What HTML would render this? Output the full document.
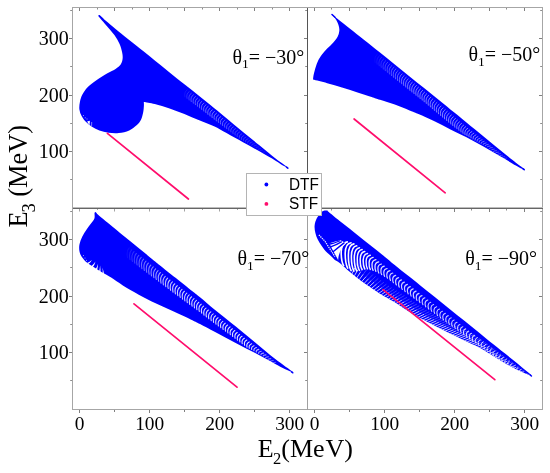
<!DOCTYPE html>
<html lang="en"><head><meta charset="utf-8"><title>E2 vs E3 kinematic loci</title>
<style>html,body{margin:0;padding:0;background:#fff}body{width:550px;height:473px;overflow:hidden}svg{display:block}</style>
</head><body>
<svg width="550" height="473" viewBox="0 0 550 473">
<rect width="550" height="473" fill="#fff"/>
<g fill="none" stroke-width="1" shape-rendering="crispEdges">
<rect x="72.5" y="7.5" width="470.0" height="402.0" stroke="#a6a6a6"/>
<path d="M307.5 208.5V409.5" stroke="#a0a0a0"/>
<path d="M307.5 7.5V208.5" stroke="#555555"/>
<path d="M72.5 207.5H542.5" stroke="#bcbcbc"/>
<path d="M72.5 208.5H542.5" stroke="#666666"/>
</g>
<path d="M79 8h1v3h-1zM79 410h1v3h-1zM114 8h1v3h-1zM114 410h1v2h-1zM149 8h1v3h-1zM149 410h1v3h-1zM184 8h1v3h-1zM184 410h1v2h-1zM219 8h1v3h-1zM219 410h1v3h-1zM254 8h1v3h-1zM254 410h1v2h-1zM289 8h1v3h-1zM289 410h1v3h-1zM314 8h1v3h-1zM314 209h1v3h-1zM314 410h1v3h-1zM349 8h1v3h-1zM349 209h1v3h-1zM349 410h1v2h-1zM384 8h1v3h-1zM384 209h1v3h-1zM384 410h1v3h-1zM419 8h1v3h-1zM419 209h1v3h-1zM419 410h1v2h-1zM454 8h1v3h-1zM454 209h1v3h-1zM454 410h1v3h-1zM489 8h1v3h-1zM489 209h1v3h-1zM489 410h1v2h-1zM524 8h1v3h-1zM524 209h1v3h-1zM524 410h1v3h-1zM72 151h-3v1h3zM307 151h-3v1h3zM542 151h-3v1h3zM72 95h-3v1h3zM307 95h-3v1h3zM542 95h-3v1h3zM72 38h-3v1h3zM307 38h-3v1h3zM542 38h-3v1h3zM72 352h-3v1h3zM307 352h-3v1h3zM542 352h-3v1h3zM72 296h-3v1h3zM307 296h-3v1h3zM542 296h-3v1h3zM72 239h-3v1h3zM307 239h-3v1h3zM542 239h-3v1h3z" fill="#808080"/>
<path d="M97 8h1v1.6h-1zM132 8h1v1.6h-1zM167 8h1v1.6h-1zM202 8h1v1.6h-1zM237 8h1v1.6h-1zM272 8h1v1.6h-1zM331 8h1v1.6h-1zM331 209h1v1.6h-1zM366 8h1v1.6h-1zM366 209h1v1.6h-1zM401 8h1v1.6h-1zM401 209h1v1.6h-1zM436 8h1v1.6h-1zM436 209h1v1.6h-1zM471 8h1v1.6h-1zM471 209h1v1.6h-1zM506 8h1v1.6h-1zM506 209h1v1.6h-1zM72 179h-1.8v1h1.8zM307 179h-1.8v1h1.8zM542 179h-1.8v1h1.8zM72 123h-1.8v1h1.8zM307 123h-1.8v1h1.8zM542 123h-1.8v1h1.8zM72 66h-1.8v1h1.8zM307 66h-1.8v1h1.8zM542 66h-1.8v1h1.8zM72 10h-1.8v1h1.8zM307 10h-1.8v1h1.8zM542 10h-1.8v1h1.8zM72 380h-1.8v1h1.8zM307 380h-1.8v1h1.8zM542 380h-1.8v1h1.8zM72 324h-1.8v1h1.8zM307 324h-1.8v1h1.8zM542 324h-1.8v1h1.8zM72 267h-1.8v1h1.8zM307 267h-1.8v1h1.8zM542 267h-1.8v1h1.8zM72 211h-1.8v1h1.8zM307 211h-1.8v1h1.8zM542 211h-1.8v1h1.8z" fill="#8c8c8c"/>
<path d="M79 209h1v2.6h-1zM97 209h1v1.1h-1zM114 209h1v2.6h-1zM132 209h1v1.1h-1zM149 209h1v2.6h-1zM167 209h1v1.1h-1zM184 209h1v2.6h-1zM202 209h1v1.1h-1zM219 209h1v2.6h-1zM237 209h1v1.1h-1zM254 209h1v2.6h-1zM272 209h1v1.1h-1zM289 209h1v2.6h-1z" fill="#a4a4a4"/>
<g fill="#0000ff" stroke="none">
<path d="M99.1 15.3C101.6 17.4 109.4 23.8 114.4 27.9C119.4 32 123.3 35.2 129.2 40C135.1 44.8 143.3 51.1 150 56.5C156.7 61.9 163.9 67.9 169.6 72.5C175.3 77.1 179.5 80.4 184.4 84.3C189.3 88.2 194.3 92.1 199.2 96C204.1 99.9 209.4 104.2 214 107.9C218.6 111.6 221.7 114.3 226.5 118.3C231.3 122.3 237.5 127.6 243 132.1C248.5 136.6 253.9 140.8 259.4 145.2C264.9 149.6 271.1 154.9 275.9 158.7C280.7 162.4 286.3 166.2 288.4 167.7C285.7 167.6 280.6 163.8 275.9 160.9C271.2 158 264.9 154.4 259.4 151.3C253.9 148.2 248.5 145.2 243 142.2C237.5 139.2 231.3 135.8 226.5 133.1C221.7 130.4 218.6 128.4 214 126.3C209.4 124.2 204.1 122.4 199.2 120.3C194.3 118.2 189.3 115.9 184.4 113.9C179.5 111.9 174.5 110.1 169.6 108.4C164.7 106.8 159.1 105.1 154.8 104C150.5 102.9 145.6 102.2 143.8 101.9C143.8 102.5 144 103.8 143.9 105.5C143.8 107.2 143.7 109.9 143.2 112.3C142.7 114.7 142.1 117.5 141 119.7C139.9 121.9 138.6 123.5 136.6 125.3C134.6 127.1 132.2 129.1 129.2 130.4C126.2 131.7 122.2 132.6 118.8 133C115.3 133.4 111.7 133.1 108.5 132.7C105.3 132.3 102.2 131.5 99.4 130.5C96.7 129.5 94.2 128.2 92 126.8C89.8 125.4 87.8 123.9 86.1 122.1C84.4 120.3 82.7 118.1 81.6 116C80.5 113.9 79.7 111.7 79.4 109.4C79.1 107.1 79.4 104.5 79.9 102C80.4 99.5 81.1 97.1 82.4 94.6C83.7 92.1 85.3 89.6 87.6 87.2C89.9 84.8 93.2 82.6 96.4 80.3C99.6 78 103.8 75.5 107 73.6C110.2 71.7 113.6 70.3 115.9 68.7C118.2 67.1 119.9 65.5 121 63.9C122.1 62.2 122.4 60.6 122.6 58.8C122.8 56.9 122.7 55.3 122.2 52.8C121.7 50.3 120.9 47 119.6 44C118.3 41 116.5 38.1 114.4 35.1C112.3 32.1 109.6 29.2 107 26.2C104.4 23.1 100.2 18.6 98.9 16.8C97.6 15 99.1 15.6 99.1 15.3Z"/>
<path d="M331.6 14.1C334.6 16.5 344 24 349.4 28.3C354.8 32.6 359.1 35.9 364.2 39.9C369.3 43.9 374.9 48.5 380 52.6C385.1 56.7 389.9 60.5 394.8 64.5C399.7 68.5 404.7 72.5 409.6 76.5C414.5 80.5 419.5 84.3 424.4 88.3C429.3 92.2 434.3 96.2 439.2 100.2C444.1 104.2 449.4 108.5 454 112.2C458.6 115.9 461.7 118.5 466.5 122.5C471.3 126.5 477.5 131.4 483 135.9C488.5 140.4 493.9 145.1 499.4 149.6C504.9 154.1 511.6 159.4 515.9 162.7C520.1 166 523.4 168.1 524.9 169.2C522.6 169.6 520 168 515.9 165.6C511.8 163.2 504.9 159 499.4 155.8C493.9 152.6 488.5 149.4 483 146.3C477.5 143.2 472 140 466.5 137.2C461 134.3 455.2 131.8 450 129.2C444.8 126.6 440.2 124.1 435 121.6C429.8 119.1 422.7 116 418.5 114.1C414.3 112.2 413.6 112 409.6 110.4C405.7 108.8 399.7 106.4 394.8 104.6C389.9 102.8 383.9 101.1 380 99.8C376.1 98.5 375.5 98.2 371.6 96.9C367.7 95.6 361.7 93.8 356.8 92.2C351.9 90.7 346.9 89.1 342 87.6C337.1 86.1 332 84.5 327.2 83.2C322.4 81.9 315.4 80.2 313 79.6C313.1 78.8 313.3 76.4 313.6 75C313.9 73.6 314.2 72.4 314.6 71C315 69.6 315.3 68.2 315.9 66.5C316.5 64.8 317 63 318 61C319 59 320.5 56.7 322 54.6C323.5 52.5 325.3 50.6 327.2 48.6C329.1 46.6 331.4 44.7 333.1 42.7C334.8 40.7 336.6 38.8 337.6 36.8C338.6 34.8 339.1 32.8 339.3 30.9C339.5 29 339.2 27.5 338.7 25.7C338.2 23.9 337.2 21.6 336.1 19.8C335.1 18 333.1 16 332.4 15C331.6 14 331.7 13.8 331.6 13.6Z"/>
<path d="M95.4 212.5C97.7 214.4 104.3 219.9 109 223.8C113.7 227.7 118.9 232.1 123.8 236.1C128.7 240.1 133.9 244.2 138.6 248C143.3 251.8 148.5 256.1 152 258.9C155.5 261.7 155.4 261.7 159.4 264.9C163.4 268.1 170.4 273.7 175.9 278.1C181.4 282.5 188.4 288.1 192.4 291.3C196.4 294.5 196.2 294.2 200 297.3C203.8 300.4 209.2 305.2 215.1 310C221 314.8 228.5 320.7 235.2 326.1C241.9 331.5 248.5 337.1 255.2 342.6C261.9 348.1 268.9 354.2 275.3 359.1C281.7 364.1 290.4 370.1 293.4 372.3C289.7 371.9 281.5 367.5 275.3 364.1C269.1 360.7 261.9 356.7 255.2 353.1C248.5 349.6 241.9 346.3 235.2 342.8C228.5 339.3 221 335.1 215.1 332C209.2 328.9 203.8 326.1 200 324.1C196.2 322.1 196.4 322.1 192.4 320.2C188.4 318.3 181.4 315 175.9 312.5C170.4 310 164.9 307.6 159.4 305C153.9 302.4 148.5 299.8 143 296.9C137.5 294 131.4 290.8 126.5 287.8C121.6 284.8 116.8 281.2 113.4 279C110 276.8 108.5 276.1 106 274.6C103.5 273.2 101.1 271.8 98.6 270.3C96.1 268.8 93.4 267.1 91.2 265.6C89 264.1 87 262.9 85.3 261.3C83.6 259.7 81.9 257 81.2 256.1C80.9 255.2 79.7 252.9 79.4 250.9C79.1 248.9 79 246.5 79.5 244.2C80 241.8 81 239.3 82.2 236.8C83.4 234.3 85.1 231.6 86.6 229.4C88.1 227.2 89.7 225.3 91 223.5C92.3 221.7 93.8 220.1 94.4 218.4C95 216.7 94.4 214.3 94.6 213.2C94.8 212.1 95.3 212.2 95.4 212Z"/>
</g>
<path d="M286.5 167.2L287.8 168.2M522.9 168.8L524.2 169.7M291.5 371.9L292.8 372.8M530.1 375L531.4 376M99.4 15.8l3.2 3M332 14.5l3 2.8M95.6 213l0.6 3" stroke="#0000ff" stroke-width="1.5" stroke-linecap="round" fill="none"/>
<g fill="none" stroke="#fff" stroke-width="0.8" stroke-linecap="round"><path d="M185 88.3Q181.7 90.4 182.8 95.3" opacity="0.00"/><path d="M187.1 89.9Q183.8 92 184.9 96.9" opacity="0.10"/><path d="M189.2 91.6Q185.9 93.6 187 98.4" opacity="0.21"/><path d="M191.3 93.2Q188 95.2 189.1 100" opacity="0.31"/><path d="M193.4 94.8Q190.1 96.9 191.2 101.6" opacity="0.40"/><path d="M195.5 96.5Q192.2 98.5 193.3 103.2" opacity="0.42"/><path d="M197.6 98.1Q194.3 100.1 195.4 104.7" opacity="0.43"/><path d="M199.7 99.8Q196.4 101.7 197.5 106.3" opacity="0.45"/><path d="M201.8 101.4Q198.5 103.4 199.6 107.9" opacity="0.46"/><path d="M203.9 103.1Q200.6 105 201.7 109.5" opacity="0.47"/><path d="M206 104.8Q202.7 106.7 203.8 111.1" opacity="0.49"/><path d="M208.1 106.4Q204.8 108.3 205.9 112.7" opacity="0.50"/><path d="M210.2 108.1Q206.9 110 207.9 114.4" opacity="0.52"/><path d="M212.3 109.8Q209 111.6 210 116" opacity="0.53"/><path d="M214.4 111.5Q211.1 113.3 212.1 117.6" opacity="0.55"/><path d="M216.5 113.2Q213.2 115 214.2 119.2" opacity="0.53"/><path d="M218.6 114.9Q215.3 116.7 216.3 120.9" opacity="0.51"/><path d="M220.7 116.6Q217.4 118.4 218.4 122.4" opacity="0.49"/><path d="M222.8 118.3Q219.5 120 220.5 124" opacity="0.47"/><path d="M224.9 120Q221.6 121.7 222.6 125.6" opacity="0.44"/><path d="M227 121.7Q223.7 123.4 224.7 127.2" opacity="0.42"/><path d="M229.1 123.4Q225.8 125 226.7 128.7" opacity="0.40"/><path d="M231.2 125.2Q227.9 126.7 228.8 130.3" opacity="0.37"/><path d="M233.3 126.9Q230 128.4 230.9 131.9" opacity="0.35"/><path d="M235.4 128.6Q232.1 130 233 133.5" opacity="0.33"/><path d="M237.5 130.3Q234.2 131.7 235.1 135" opacity="0.31"/><path d="M239.6 132Q236.3 133.4 237.2 136.6" opacity="0.29"/><path d="M241.7 133.7Q238.4 135.1 239.2 138.2" opacity="0.27"/><path d="M243.8 135.4Q240.5 136.6 241.3 139.5" opacity="0.26"/><path d="M245.9 137Q242.6 138.1 243.3 140.6" opacity="0.24"/><path d="M248 138.7Q244.7 139.6 245.4 141.8" opacity="0.23"/><path d="M250.1 140.3Q246.8 141.1 247.4 143" opacity="0.21"/><path d="M252.2 141.9Q248.9 142.6 249.5 144.1" opacity="0.19"/><path d="M254.3 143.6Q251 144.1 251.5 145.3" opacity="0.18"/><path d="M256.4 145.2Q253.1 145.6 253.6 146.5" opacity="0.16"/><path d="M258.5 146.8Q255.2 147.1 255.6 147.8" opacity="0.15"/><path d="M260.6 148.5Q257.3 148.8 257.7 149.5" opacity="0.13"/><path d="M262.7 150.1Q259.4 150.4 259.8 151.1" opacity="0.12"/><path d="M264.8 151.8Q261.5 152.1 261.9 152.8" opacity="0.10"/></g>
<g fill="none" stroke="#fff" stroke-width="0.8" stroke-linecap="round"><path d="M375.4 52.4Q371.7 55 373 60.9" opacity="0.00"/><path d="M377.4 54.1Q373.8 56.6 375.1 62.5" opacity="0.06"/><path d="M379.5 55.7Q375.8 58.2 377.1 64.2" opacity="0.11"/><path d="M381.6 57.4Q377.9 59.9 379.2 65.8" opacity="0.17"/><path d="M383.6 59Q379.9 61.5 381.2 67.4" opacity="0.22"/><path d="M385.7 60.7Q382 63.2 383.3 69.1" opacity="0.28"/><path d="M387.7 62.3Q384 64.8 385.3 70.7" opacity="0.33"/><path d="M389.8 64Q386.1 66.5 387.4 72.3" opacity="0.36"/><path d="M391.8 65.6Q388.1 68.1 389.4 74" opacity="0.38"/><path d="M393.9 67.3Q390.2 69.8 391.5 75.6" opacity="0.40"/><path d="M395.9 68.9Q392.2 71.4 393.5 77.3" opacity="0.43"/><path d="M398 70.6Q394.3 73.1 395.5 78.9" opacity="0.45"/><path d="M400 72.3Q396.3 74.7 397.6 80.6" opacity="0.47"/><path d="M402.1 73.9Q398.4 76.4 399.6 82.2" opacity="0.49"/><path d="M404.1 75.6Q400.4 78.1 401.7 83.8" opacity="0.51"/><path d="M406.2 77.3Q402.5 79.7 403.7 85.5" opacity="0.53"/><path d="M408.2 78.9Q404.5 81.4 405.8 87.1" opacity="0.55"/><path d="M410.3 80.6Q406.6 83 407.8 88.8" opacity="0.57"/><path d="M412.3 82.2Q408.6 84.7 409.9 90.4" opacity="0.59"/><path d="M414.4 83.9Q410.7 86.3 411.9 92" opacity="0.60"/><path d="M416.4 85.5Q412.7 87.9 414 93.6" opacity="0.60"/><path d="M418.5 87.1Q414.8 89.6 416 95.3" opacity="0.60"/><path d="M420.5 88.8Q416.8 91.2 418.1 96.9" opacity="0.61"/><path d="M422.6 90.4Q418.9 92.8 420.1 98.5" opacity="0.61"/><path d="M424.6 92.1Q420.9 94.5 422.2 100.1" opacity="0.61"/><path d="M426.7 93.7Q423 96.1 424.2 101.8" opacity="0.61"/><path d="M428.7 95.4Q425 97.8 426.3 103.4" opacity="0.61"/><path d="M430.8 97.2Q427.1 99.6 428.3 105.2" opacity="0.61"/><path d="M432.8 98.9Q429.1 101.3 430.4 106.9" opacity="0.62"/><path d="M434.9 100.7Q431.2 103.1 432.4 108.7" opacity="0.62"/><path d="M436.9 102.5Q433.2 104.9 434.4 110.4" opacity="0.62"/><path d="M439 104.3Q435.3 106.6 436.5 112.1" opacity="0.62"/><path d="M441 106.1Q437.3 108.4 438.5 113.8" opacity="0.62"/><path d="M443.1 107.9Q439.4 110.1 440.6 115.5" opacity="0.62"/><path d="M445.1 109.7Q441.4 111.9 442.6 117.2" opacity="0.63"/><path d="M447.2 111.4Q443.5 113.7 444.6 118.9" opacity="0.63"/><path d="M449.2 113.2Q445.5 115.4 446.7 120.6" opacity="0.63"/><path d="M451.3 115Q447.6 117.2 448.7 122.3" opacity="0.63"/><path d="M453.3 116.8Q449.6 119 450.8 124" opacity="0.63"/><path d="M455.4 118.5Q451.7 120.6 452.8 125.6" opacity="0.63"/><path d="M457.4 120.1Q453.7 122.2 454.8 127.2" opacity="0.64"/><path d="M459.5 121.8Q455.8 123.9 456.9 128.7" opacity="0.64"/><path d="M461.5 123.4Q457.8 125.5 458.9 130.3" opacity="0.64"/><path d="M463.6 125.1Q459.9 127.1 461 131.9" opacity="0.64"/><path d="M465.6 126.7Q461.9 128.7 463 133.4" opacity="0.64"/><path d="M467.7 128.3Q464 130.2 465 134.6" opacity="0.65"/><path d="M469.7 130Q466 131.7 467 135.6" opacity="0.65"/><path d="M471.8 131.6Q468.1 133.1 469 136.7" opacity="0.65"/><path d="M473.8 133.2Q470.1 134.6 471 137.9" opacity="0.65"/><path d="M475.9 134.8Q472.2 136.1 472.9 139" opacity="0.63"/><path d="M477.9 136.5Q474.2 137.6 474.9 140.1" opacity="0.60"/><path d="M480 138.1Q476.3 139 476.9 141.2" opacity="0.58"/><path d="M482 139.7Q478.3 140.5 478.9 142.4" opacity="0.56"/><path d="M484.1 141.3Q480.4 142 480.9 143.5" opacity="0.54"/><path d="M486.1 142.9Q482.4 143.4 482.9 144.6" opacity="0.52"/><path d="M488.2 144.4Q484.5 144.8 484.9 145.8" opacity="0.50"/><path d="M490.2 146Q486.5 146.3 486.9 147" opacity="0.48"/><path d="M492.3 147.5Q488.6 147.8 489 148.5" opacity="0.46"/><path d="M494.3 149.1Q490.6 149.4 491 150.1" opacity="0.44"/><path d="M496.4 150.6Q492.7 150.9 493.1 151.6" opacity="0.42"/><path d="M498.4 152.1Q494.7 152.4 495.1 153.1" opacity="0.40"/><path d="M500.5 153.6Q496.8 153.9 497.2 154.6" opacity="0.36"/><path d="M502.5 155.1Q498.8 155.4 499.2 156.1" opacity="0.33"/><path d="M504.6 156.6Q500.9 156.9 501.3 157.6" opacity="0.29"/><path d="M506.6 158Q502.9 158.3 503.3 159" opacity="0.26"/></g>
<g fill="none" stroke="#fff" stroke-width="1.1" stroke-linecap="round"><path d="M126.8 246Q123.7 249 125.2 256" opacity="0.00"/><path d="M129.2 247.9Q126.1 250.9 127.6 257.8" opacity="0.06"/><path d="M131.6 249.8Q128.5 252.7 130 259.6" opacity="0.12"/><path d="M134 251.7Q130.9 254.6 132.4 261.4" opacity="0.18"/><path d="M136.4 253.5Q133.3 256.4 134.8 263.2" opacity="0.24"/><path d="M138.8 255.4Q135.7 258.3 137.1 265" opacity="0.30"/><path d="M141.2 257.3Q138.1 260.2 139.5 266.8" opacity="0.36"/><path d="M143.6 259.2Q140.5 262.1 141.9 268.6" opacity="0.41"/><path d="M146 261.1Q142.9 263.9 144.3 270.5" opacity="0.44"/><path d="M148.4 263Q145.3 265.8 146.7 272.3" opacity="0.47"/><path d="M150.8 265Q147.7 267.7 149.1 274.1" opacity="0.51"/><path d="M153.2 266.9Q150.1 269.6 151.5 275.9" opacity="0.54"/><path d="M155.6 268.8Q152.5 271.4 153.9 277.7" opacity="0.57"/><path d="M158 270.7Q154.9 273.3 156.3 279.5" opacity="0.60"/><path d="M160.4 272.5Q157.3 275.2 158.7 281.3" opacity="0.63"/><path d="M162.8 274.4Q159.7 277 161 283.1" opacity="0.67"/><path d="M165.2 276.3Q162.1 278.9 163.4 284.9" opacity="0.70"/><path d="M167.6 278.2Q164.5 280.7 165.8 286.7" opacity="0.73"/><path d="M170 280Q166.9 282.6 168.2 288.5" opacity="0.76"/><path d="M172.4 281.9Q169.3 284.4 170.6 290.3" opacity="0.79"/><path d="M174.8 283.8Q171.7 286.3 173 292.1" opacity="0.80"/><path d="M177.2 285.7Q174.1 288.1 175.4 293.9" opacity="0.81"/><path d="M179.6 287.5Q176.5 290 177.8 295.6" opacity="0.81"/><path d="M182 289.4Q178.9 291.8 180.2 297.4" opacity="0.81"/><path d="M184.4 291.3Q181.3 293.6 182.6 299.2" opacity="0.82"/><path d="M186.8 293.1Q183.7 295.5 184.9 300.9" opacity="0.82"/><path d="M189.2 294.9Q186.1 297.3 187.3 302.7" opacity="0.82"/><path d="M191.6 296.8Q188.5 299.1 189.7 304.4" opacity="0.83"/><path d="M194 298.6Q190.9 300.9 192.1 306.2" opacity="0.83"/><path d="M196.4 300.4Q193.3 302.7 194.5 307.9" opacity="0.83"/><path d="M198.8 302.3Q195.7 304.5 196.9 309.6" opacity="0.83"/><path d="M201.2 304.2Q198.1 306.3 199.3 311.4" opacity="0.84"/><path d="M203.6 306.1Q200.5 308.2 201.7 313.2" opacity="0.84"/><path d="M206 308.1Q202.9 310.2 204 315.1" opacity="0.84"/><path d="M208.4 310Q205.3 312.1 206.4 316.9" opacity="0.85"/><path d="M210.8 311.9Q207.7 314 208.8 318.8" opacity="0.85"/><path d="M213.2 313.9Q210.1 315.9 211.2 320.6" opacity="0.85"/><path d="M215.6 315.8Q212.5 317.8 213.6 322.4" opacity="0.86"/><path d="M218 317.7Q214.9 319.6 216 324.2" opacity="0.86"/><path d="M220.4 319.5Q217.3 321.4 218.4 326" opacity="0.86"/><path d="M222.8 321.4Q219.7 323.3 220.8 327.7" opacity="0.87"/><path d="M225.2 323.2Q222.1 325.1 223.1 329.5" opacity="0.87"/><path d="M227.6 325.1Q224.5 326.9 225.5 331.2" opacity="0.87"/><path d="M230 326.9Q226.9 328.7 227.9 333" opacity="0.88"/><path d="M232.4 328.8Q229.3 330.5 230.3 334.7" opacity="0.88"/><path d="M234.8 330.6Q231.7 332.4 232.7 336.5" opacity="0.88"/><path d="M237.2 332.5Q234.1 334.2 235.1 338.3" opacity="0.89"/><path d="M239.6 334.4Q236.5 336.1 237.5 340.1" opacity="0.89"/><path d="M242 336.3Q238.9 338 239.9 341.9" opacity="0.89"/><path d="M244.4 338.2Q241.3 339.8 242.2 343.6" opacity="0.90"/><path d="M246.8 340.1Q243.7 341.7 244.6 345.3" opacity="0.90"/><path d="M249.2 341.9Q246.1 343.5 247 347.1" opacity="0.88"/><path d="M251.6 343.8Q248.5 345.1 249.3 348.3" opacity="0.83"/><path d="M254 345.7Q250.9 346.8 251.7 349.5" opacity="0.79"/><path d="M256.4 347.5Q253.3 348.5 254 350.8" opacity="0.75"/><path d="M258.8 349.4Q255.7 350.2 256.3 352" opacity="0.71"/><path d="M261.2 351.2Q258.1 351.8 258.7 353.4" opacity="0.67"/><path d="M263.6 353.1Q260.5 353.5 261 354.7" opacity="0.62"/><path d="M266 354.9Q262.9 355.2 263.3 356" opacity="0.58"/><path d="M268.4 356.8Q265.3 357.1 265.7 357.8" opacity="0.54"/><path d="M270.8 358.6Q267.7 358.9 268.1 359.6" opacity="0.48"/><path d="M273.2 360.5Q270.1 360.8 270.5 361.5" opacity="0.42"/><path d="M275.6 362.3Q272.5 362.6 272.9 363.3" opacity="0.37"/></g>
<path d="M87 263.1Q89.8 261.8 91.8 260Q90.7 262.8 88.4 264.1ZM91.1 266.5Q93.7 264.2 95.5 261.5Q94.6 265.2 92.5 267.5ZM95.2 270.1Q97 267.1 98.1 263.7Q97.9 268.1 96.6 271.1ZM98.9 272.4Q99.8 269.2 100.1 265.6Q100.8 270.2 100.3 273.4ZM102.6 273.7Q102.9 270.8 102.5 267.4Q103.8 271.8 104 274.7Z" fill="#fff"/>
<g fill="none" stroke="#fff" stroke-linecap="round"><path d="M83.6 255.6h.01M85 258.1h.01M86.6 260.4h.01M83.6 115.6h.01M85.2 117.8h.01M87 119h.01" stroke-width="0.9" opacity="0.8"/><path d="M91.7 122.4L91.6 125.6" stroke-width="0.5"/></g>
<path d="M87.1 121.4L89.9 120.8L89.5 125.2Z" fill="#fff"/>
<clipPath id="c4"><path d="M327.6 211C330 213 337.1 218.9 342 222.8C346.9 226.7 351.9 230.5 356.8 234.4C361.7 238.3 366.9 242.4 371.6 246.2C376.3 249.9 381.2 253.8 385 256.9C388.8 260 390.4 261.4 394.4 264.7C398.4 268 404.9 273.2 409.2 276.6C413.5 280 415.7 281.8 420 285.2C424.3 288.6 429.9 293.1 434.8 297C439.7 300.9 444.7 304.9 449.6 308.9C454.5 312.9 459.5 316.8 464.4 320.8C469.3 324.8 474.3 328.7 479.2 332.7C484.1 336.7 488.6 340.4 494 344.8C499.4 349.2 505.4 353.8 511.8 358.9C518.1 364 528.7 372.7 532.1 375.5C527.9 375.1 518 370.5 511.8 367.1C505.6 363.7 499.4 359.7 494 356.4C488.6 353.1 484.1 350.1 479.2 347.4C474.3 344.7 469.3 342.8 464.4 340.4C459.5 338 454.5 335.6 449.6 333.2C444.7 330.8 439.7 328.3 434.8 325.8C429.9 323.3 424.2 320.3 420 318C415.8 315.7 413.9 314.7 409.6 312C405.3 309.3 399.4 305.1 394.4 302C389.4 298.9 384.5 296.5 379.6 293.4C374.7 290.3 369.7 287.2 364.8 283.6C359.9 280 354 275.3 350 272C346 268.7 343.6 266.1 341 264C338.4 261.9 335.7 260.4 334.6 259.7C333.9 259 331.8 257 330.1 255.3C328.4 253.6 326.2 251.9 324.2 249.4C322.2 246.9 319.8 243.2 318.3 240.5C316.8 237.8 316 235.6 315.4 233.1C314.8 230.6 314.4 228.2 314.6 225.7C314.8 223.2 315.7 220.5 316.8 218.3C317.9 216.1 320 213.7 321.3 212.4C322.6 211.1 323.6 210.8 324.6 210.5C325.7 210.2 327.1 210.6 327.6 210.6Z"/></clipPath>
<path d="M327.6 211C330 213 337.1 218.9 342 222.8C346.9 226.7 351.9 230.5 356.8 234.4C361.7 238.3 366.9 242.4 371.6 246.2C376.3 249.9 381.2 253.8 385 256.9C388.8 260 390.4 261.4 394.4 264.7C398.4 268 404.9 273.2 409.2 276.6C413.5 280 415.7 281.8 420 285.2C424.3 288.6 429.9 293.1 434.8 297C439.7 300.9 444.7 304.9 449.6 308.9C454.5 312.9 459.5 316.8 464.4 320.8C469.3 324.8 474.3 328.7 479.2 332.7C484.1 336.7 488.6 340.4 494 344.8C499.4 349.2 505.4 353.8 511.8 358.9C518.1 364 528.7 372.7 532.1 375.5C527.9 375.1 518 370.5 511.8 367.1C505.6 363.7 499.4 359.7 494 356.4C488.6 353.1 484.1 350.1 479.2 347.4C474.3 344.7 469.3 342.8 464.4 340.4C459.5 338 454.5 335.6 449.6 333.2C444.7 330.8 439.7 328.3 434.8 325.8C429.9 323.3 424.2 320.3 420 318C415.8 315.7 413.9 314.7 409.6 312C405.3 309.3 399.4 305.1 394.4 302C389.4 298.9 384.5 296.5 379.6 293.4C374.7 290.3 369.7 287.2 364.8 283.6C359.9 280 354 275.3 350 272C346 268.7 343.6 266.1 341 264C338.4 261.9 335.7 260.4 334.6 259.7C333.9 259 331.8 257 330.1 255.3C328.4 253.6 326.2 251.9 324.2 249.4C322.2 246.9 319.8 243.2 318.3 240.5C316.8 237.8 316 235.6 315.4 233.1C314.8 230.6 314.4 228.2 314.6 225.7C314.8 223.2 315.7 220.5 316.8 218.3C317.9 216.1 320 213.7 321.3 212.4C322.6 211.1 323.6 210.8 324.6 210.5C325.7 210.2 327.1 210.6 327.6 210.6Z" fill="#0000ff"/>
<g clip-path="url(#c4)" fill="none" stroke="#fff" stroke-linecap="round">
<path d="M347.3 241.9Q341.4 242.8 341.2 251.8Q341.1 261.1 343.6 265.7" stroke-width="1.6" opacity="1.00"/>
<path d="M351 242.7Q345.4 243.6 345.2 253.1Q345.1 263.1 347.7 268.1" stroke-width="1.6" opacity="0.99"/>
<path d="M353.9 243.9Q348.6 244.7 348.4 254.6Q348.2 265.3 351.1 270.6" stroke-width="1.6" opacity="0.98"/>
<path d="M356.7 245.8Q351.6 246.6 351.4 256Q351.2 266 353.9 271.1" stroke-width="1.6" opacity="0.98"/>
<path d="M359.4 247.7Q354.5 248.5 354.3 257.1Q354.2 266.3 356.7 270.9" stroke-width="1.6" opacity="0.97"/>
<path d="M362.1 249.6Q357.5 250.4 357.3 258.1Q357.1 266.3 359.4 270.4" stroke-width="1.5" opacity="0.97"/>
<path d="M364.8 251.5Q360.4 252.2 360.2 259Q360.1 266.2 362.1 269.7" stroke-width="1.5" opacity="0.96"/>
<path d="M367.5 253.4Q363.4 254.1 363.2 259.9Q363 266 364.8 269" stroke-width="1.5" opacity="0.95"/>
<path d="M370.3 255.3Q366.3 256 366.1 261.1Q366 266.3 367.5 268.8" stroke-width="1.4" opacity="0.94"/>
<path d="M373.1 257.4Q369.3 258.1 369.1 262.6Q368.9 267.3 370.3 269.5" stroke-width="1.4" opacity="0.92"/>
<path d="M375.9 259.6Q372.2 260.3 372 264.3Q371.9 268.5 373.1 270.4" stroke-width="1.3" opacity="0.90"/>
<path d="M378.7 261.8Q375.2 262.5 375 266Q374.8 269.6 375.9 271.3" stroke-width="1.3" opacity="0.88"/>
<path d="M381.5 264Q378.1 264.6 377.9 268Q377.8 271.4 378.8 273" stroke-width="1.2" opacity="0.87"/>
<path d="M384.3 266.2Q381.1 266.8 380.9 270Q380.7 273.2 381.7 274.6" stroke-width="1.2" opacity="0.85"/>
<path d="M387.1 268.5Q384 269.1 383.8 272Q383.7 275 384.6 276.3" stroke-width="1.2" opacity="0.83"/>
<path d="M390 270.7Q387 271.3 386.8 274.1Q386.6 276.9 387.5 278.2" stroke-width="1.2" opacity="0.81"/>
<path d="M392.8 273Q389.9 273.6 389.7 276.3Q389.6 279.1 390.5 280.4" stroke-width="1.2" opacity="0.80"/>
<path d="M395.7 275.3Q392.9 275.9 392.7 278.6Q392.5 281.4 393.4 282.7" stroke-width="1.2" opacity="0.80"/>
<path d="M398.6 277.6Q395.8 278.2 395.6 280.9Q395.5 283.6 396.4 284.9" stroke-width="1.2" opacity="0.80"/>
<path d="M401.5 279.8Q398.8 280.4 398.6 283.1Q398.4 285.9 399.3 287.1" stroke-width="1.2" opacity="0.80"/>
<path d="M404.4 282.1Q401.7 282.7 401.5 285.4Q401.4 288.1 402.3 289.4" stroke-width="1.2" opacity="0.80"/>
<path d="M407.4 284.4Q404.7 285 404.5 287.6Q404.3 290.3 405.2 291.6" stroke-width="1.2" opacity="0.80"/>
<path d="M410.3 286.6Q407.6 287.2 407.4 289.9Q407.3 292.5 408.2 293.8" stroke-width="1.2" opacity="0.80"/>
<path d="M413.2 288.9Q410.6 289.5 410.4 292.1Q410.2 294.7 411.1 296" stroke-width="1.2" opacity="0.80"/>
<path d="M416.1 291.1Q413.5 291.7 413.3 294.3Q413.2 296.9 414.1 298.2" stroke-width="1.2" opacity="0.80"/>
<path d="M419 293.3Q416.5 293.9 416.3 296.5Q416.1 299.1 417 300.3" stroke-width="1.2" opacity="0.80"/>
<path d="M422 295.6Q419.4 296.1 419.2 298.7Q419.1 301.3 419.9 302.5" stroke-width="1.2" opacity="0.80"/>
<path d="M424.9 297.8Q422.4 298.4 422.2 300.9Q422 303.5 422.9 304.7" stroke-width="1.1" opacity="0.80"/>
<path d="M427.8 300Q425.3 300.6 425.1 303.1Q425 305.7 425.8 306.9" stroke-width="1.1" opacity="0.80"/>
<path d="M430.7 302.3Q428.3 302.8 428.1 305.3Q427.9 307.9 428.8 309.1" stroke-width="1.1" opacity="0.80"/>
<path d="M433.6 304.5Q431.2 305 431 307.5Q430.9 310.1 431.7 311.3" stroke-width="1.1" opacity="0.80"/>
<path d="M436.6 306.7Q434.2 307.3 434 309.7Q433.8 312.2 434.7 313.4" stroke-width="1.1" opacity="0.80"/>
<path d="M439.5 309Q437.1 309.5 436.9 311.9Q436.8 314.4 437.6 315.6" stroke-width="1.1" opacity="0.80"/>
<path d="M442.4 311.2Q440.1 311.7 439.9 314.1Q439.7 316.6 440.6 317.8" stroke-width="1.1" opacity="0.80"/>
<path d="M445.3 313.4Q443 314 442.8 316.3Q442.7 318.7 443.5 319.9" stroke-width="1.1" opacity="0.80"/>
<path d="M448.2 315.6Q446 316.2 445.8 318.5Q445.6 320.9 446.4 322" stroke-width="1.1" opacity="0.80"/>
<path d="M451.2 317.8Q448.9 318.4 448.7 320.7Q448.6 323 449.4 324.2" stroke-width="1.1" opacity="0.80"/>
<path d="M454.1 320Q451.9 320.6 451.7 322.8Q451.5 325.2 452.3 326.3" stroke-width="1.1" opacity="0.80"/>
<path d="M457 322.3Q454.8 322.8 454.6 325Q454.5 327.3 455.3 328.4" stroke-width="1.1" opacity="0.80"/>
<path d="M459.9 324.5Q457.8 325 457.6 327.2Q457.4 329.5 458.2 330.6" stroke-width="1.1" opacity="0.80"/>
<path d="M462.8 326.7Q460.7 327.2 460.5 329.3Q460.4 331.6 461.2 332.7" stroke-width="1.1" opacity="0.80"/>
<path d="M465.7 328.9Q463.7 329.4 463.5 331.5Q463.3 333.8 464.1 334.8" stroke-width="1.1" opacity="0.80"/>
<path d="M468.7 331.1Q466.6 331.6 466.4 333.7Q466.3 335.9 467 337" stroke-width="1.1" opacity="0.80"/>
<path d="M471.6 333.3Q469.6 333.8 469.4 335.8Q469.2 338 470 339.1" stroke-width="1.1" opacity="0.80"/>
<path d="M474.5 335.4Q472.5 336 472.3 338Q472.2 340.1 472.9 341.1" stroke-width="1.1" opacity="0.80"/>
<path d="M477.4 337.6Q475.5 338.1 475.3 340.1Q475.1 342.2 475.9 343.2" stroke-width="1" opacity="0.80"/>
<path d="M480.3 339.8Q478.4 340.3 478.2 342.2Q478.1 344.3 478.8 345.2" stroke-width="1" opacity="0.80"/>
<path d="M483.2 342Q481.4 342.5 481.2 344.4Q481 346.4 481.7 347.3" stroke-width="1" opacity="0.80"/>
<path d="M486.1 344.2Q484.3 344.7 484.1 346.5Q484 348.5 484.7 349.4" stroke-width="1" opacity="0.80"/>
<path d="M489.1 346.4Q487.3 346.9 487.1 348.7Q486.9 350.6 487.6 351.5" stroke-width="1" opacity="0.80"/>
<path d="M492 348.6Q490.2 349.1 490 350.8Q489.9 352.7 490.5 353.6" stroke-width="1" opacity="0.80"/>
<path d="M494.9 350.8Q493.2 351.3 493 353Q492.8 354.8 493.5 355.6" stroke-width="1" opacity="0.80"/>
<path d="M497.8 352.9Q496.1 353.4 495.9 355Q495.8 356.8 496.4 357.6" stroke-width="1" opacity="0.80"/>
<path d="M500.7 355Q499.1 355.5 498.9 357.1Q498.7 358.8 499.4 359.6" stroke-width="1" opacity="0.80"/>
<path d="M503.6 357.1Q502 357.5 501.8 359Q501.7 360.7 502.3 361.4" stroke-width="1" opacity="0.80"/>
<path d="M506.5 359.1Q505 359.6 504.8 361Q504.6 362.5 505.2 363.2" stroke-width="0.9" opacity="0.80"/>
<path d="M509.5 361.1Q507.9 361.6 507.7 362.9Q507.6 364.3 508.1 365" stroke-width="0.9" opacity="0.80"/>
<path d="M512.4 363.1Q510.9 363.6 510.7 364.8Q510.5 366.2 511.1 366.8" stroke-width="0.9" opacity="0.80"/>
<path d="M515.3 365.2Q513.8 365.7 513.6 366.8Q513.5 368.1 514 368.6" stroke-width="0.8" opacity="0.80"/>
<path d="M518.2 367.3Q516.8 367.8 516.6 368.8Q516.4 370 516.9 370.5" stroke-width="0.8" opacity="0.80"/>
<path d="M521.1 369.4Q519.7 369.9 519.5 370.8Q519.4 371.9 519.8 372.3" stroke-width="0.8" opacity="0.80"/>
<path d="M524 371.5Q522.7 372 522.5 372.8Q522.3 373.8 522.8 374.2" stroke-width="0.7" opacity="0.80"/>
<path d="M526.9 373.8Q525.6 374.2 525.4 375Q525.3 375.9 525.7 376.3" stroke-width="0.7" opacity="0.80"/>
<path d="M318.9 234.9L325 241.3L328.4 246.6L334.9 256.6" stroke-width="1.25" stroke-dasharray="1.35 0.85" stroke-linecap="butt" opacity="0.95"/>
</g>
<g clip-path="url(#c4)">
<path d="M340.5 240.2Q335.5 241.2 329.6 243.2L331.6 248L334.6 253.5L337.6 259L339.2 263L338.1 260.4Q338.4 254 341.4 248.9Q343.6 245.4 346.2 243.2Z" fill="#fff"/>
<path d="M339.4 241.0Q333.6 243.5 329.9 244.0M341.4 241.9Q336.2 245.0 331.2 246.7M344.1 242.9Q338.4 247.4 333.4 251.6" fill="none" stroke="#0000ff" stroke-width="1.35" stroke-linecap="round"/>
</g>
<g clip-path="url(#c4)" fill="none" stroke="#fff"><path d="M351.5 274.8l3.4 -6.9M353.9 276.7l3.8 -6.7M356.3 278.6l4.2 -6.5M358.6 280.5l4.6 -6.2M361 282.3l5.1 -5.7M363.4 284.2l5.3 -5.5M365.8 285.9l5.5 -5.4M368.3 287.5l5.7 -5.2M370.7 289.1l5.9 -5M373.1 290.7l6.1 -4.7M375.5 292.3l6.2 -4.6M378 293.9l6.3 -4.5M380.4 295.3l6.3 -4.4M382.9 296.7l6.4 -4.3M385.3 298.1l6.5 -4.2M387.7 299.6l6.5 -4.1M390.2 301l6.6 -4M392.6 302.4l6.7 -3.9M395.1 303.9l6.7 -3.7M397.5 305.5l6.8 -3.6M399.9 307.1l6.8 -3.5M402.4 308.7l6.8 -3.5M404.8 310.3l6.9 -3.5M407.3 311.9l6.9 -3.5M409.7 313.4l6.9 -3.5M412.2 314.8l6.9 -3.4M414.6 316.3l6.9 -3.4M417.1 317.7l6.9 -3.4M419.5 319l6.9 -3.4M422 320.3l6.9 -3.3M424.4 321.6l6.9 -3.3M426.9 322.9l7 -3.3M429.3 324.2l7 -3.3M431.8 325.5l7 -3.3M434.2 326.8l7 -3.2M436.7 328l7 -3.2M439.1 329.2l7 -3.2M441.6 330.4l7 -3.2M444 331.6l7 -3.1M446.5 332.9l7 -3.1M448.9 334.1l7 -3.1M451.4 335.3l7.1 -3.1M453.8 336.5l7.1 -3.1M456.3 337.6l7.1 -3.1M458.7 338.8l7.1 -3.1M461.1 340l7.1 -3.1M463.6 341.2l7 -3M466 342.4l6.8 -2.9M468.5 343.5l6.5 -2.8M470.9 344.7l6.3 -2.7M473.4 345.8l6 -2.6M475.8 347l5.8 -2.5M478.3 348.2l5.6 -2.4M480.7 349.7l5.4 -2.3M483.2 351.2l5.3 -2.2M485.6 352.7l5.1 -2.1M488.1 354.1l4.9 -2.1M490.5 355.6l4.8 -2M493 357.1l4.6 -1.9M495.4 358.6l4.5 -1.9M497.9 360.1l4.4 -1.8M500.3 361.5l4.2 -1.7M502.8 363l4.1 -1.7M505.2 364.5l3.9 -1.6M507.7 366l3.8 -1.5M510.1 367.4l3.6 -1.5M512.6 368.7l3.4 -1.4M515 369.9l3.2 -1.3M517.5 371.1l3 -1.2M519.9 372.3l2.7 -1.1" stroke-width="0.9" opacity="0.85"/><path d="M354.9 268l2.6 -5.2M357.6 270l2.9 -5.1M360.4 272.1l3.2 -4.9M363.2 274.3l3.5 -4.7M366.1 276.6l3.9 -4.4M368.8 278.7l4.1 -4.2M371.4 280.5l4.2 -4.1M374 282.3l4.3 -3.9M376.6 284.1l4.5 -3.8M379.2 285.9l4.6 -3.6M381.7 287.7l4.7 -3.5M384.2 289.4l4.8 -3.4M386.7 291l4.8 -3.3M389.3 292.5l4.9 -3.3M391.8 294l4.9 -3.2M394.3 295.5l5 -3.1M396.8 297l5 -3M399.3 298.5l5.1 -2.9M401.8 300.2l5.1 -2.8M404.3 301.9l5.2 -2.8M406.8 303.6l5.2 -2.7M409.2 305.2l5.2 -2.7M411.7 306.8l5.2 -2.7M414.1 308.4l5.2 -2.6M416.6 310l5.2 -2.6M419.1 311.4l5.2 -2.6M421.5 312.8l5.2 -2.6M424 314.3l5.3 -2.6M426.4 315.7l5.3 -2.6M428.9 317l5.3 -2.5M431.4 318.3l5.3 -2.5M433.8 319.6l5.3 -2.5M436.3 320.9l5.3 -2.5M438.7 322.2l5.3 -2.5M441.2 323.5l5.3 -2.5M443.7 324.8l5.3 -2.4M446.1 326l5.3 -2.4M448.6 327.2l5.3 -2.4M451 328.5l5.3 -2.4M453.5 329.7l5.3 -2.4M455.9 331l5.4 -2.4M458.4 332.2l5.4 -2.4M460.9 333.4l5.4 -2.3M463.3 334.6l5.4 -2.3M465.8 335.8l5.4 -2.3M468.2 337l5.4 -2.3M470.6 338.2l5.3 -2.3M472.8 339.5l5.1 -2.2M475 340.7l4.9 -2.1M477.2 342l4.7 -2M479.4 343.3l4.4 -1.9M481.6 344.5l4.2 -1.8M483.9 345.8l4 -1.7M486.1 347.4l3.9 -1.6M488.4 349l3.7 -1.6M490.7 350.5l3.6 -1.5M493 352.1l3.5 -1.4M495.3 353.6l3.3 -1.4M497.6 355.2l3.2 -1.3M499.9 356.7l3 -1.3M502.2 358.3l2.9 -1.2M504.6 359.8l2.8 -1.2M506.9 361.3l2.7 -1.1M509.2 362.9l2.5 -1M511.5 364.4l2.4 -1M513.8 365.9l2.3 -0.9M516 367.3l2.1 -0.8M518.2 368.6l1.9 -0.8M520.4 369.9l1.7 -0.7M522.7 371.3l1.4 -0.6" stroke-width="0.7" opacity="0.35"/></g>
<path d="M107.4 133.3L188.4 199M354.1 119L445.2 192.8M134 303.9L237 387.2M383 289.6L494.8 379.7" stroke="#ff0d6c" stroke-width="1.7" fill="none" stroke-linecap="round"/>
<g font-family="'Liberation Serif', 'Times New Roman', serif" fill="#000">
<g font-size="20" text-anchor="end">
<text x="68.8" y="157.9">100</text>
<text x="68.8" y="101.9">200</text>
<text x="68.8" y="44.9">300</text>
<text x="68.8" y="358.9">100</text>
<text x="68.8" y="302.9">200</text>
<text x="68.8" y="245.9">300</text>
</g>
<g font-size="19.4" text-anchor="middle">
<text x="79.7" y="430.2">0</text>
<text x="149.7" y="430.2">100</text>
<text x="219.7" y="430.2">200</text>
<text x="289.7" y="430.2">300</text>
<text x="314.7" y="430.2">0</text>
<text x="384.7" y="430.2">100</text>
<text x="454.7" y="430.2">200</text>
<text x="524.7" y="430.2">300</text>
</g>
<text x="257.7" y="457.2" font-size="26">E<tspan font-size="16.5" dy="7" dx="-0.6">2</tspan><tspan dy="-7">(Me</tspan><tspan dx="1">V)</tspan></text>
<text transform="translate(27.2 227.6) rotate(-90) scale(0.975 1)" font-size="27">E<tspan font-size="19" dy="7.4" dx="-1">3</tspan><tspan dy="-7.4"> (MeV)</tspan></text>
<text x="232.4" y="63.6" font-size="20">θ<tspan font-size="13.5" dy="4.6">1</tspan><tspan dy="-4.6">= −30°</tspan></text>
<text x="468.4" y="61" font-size="20">θ<tspan font-size="13.5" dy="4.6">1</tspan><tspan dy="-4.6">= −50°</tspan></text>
<text x="237.4" y="265.4" font-size="20">θ<tspan font-size="13.5" dy="4.6">1</tspan><tspan dy="-4.6">= −70°</tspan></text>
<text x="465.2" y="265.4" font-size="20">θ<tspan font-size="13.5" dy="4.6">1</tspan><tspan dy="-4.6">= −90°</tspan></text>
</g>
<rect x="246.5" y="173.5" width="75" height="42" fill="#fff" stroke="#b4b4b4" stroke-width="1" shape-rendering="crispEdges"/>
<circle cx="266.4" cy="184.5" r="1.9" fill="#0000ff"/>
<circle cx="266.4" cy="203.9" r="1.9" fill="#ff0d6c"/>
<g font-family="'Liberation Sans', Arial, sans-serif" font-size="15.4" fill="#000">
<text transform="translate(289 189.7) scale(1 1.08)">DTF</text>
<text transform="translate(289 209.4) scale(1 1.08)">STF</text>
</g>
</svg>
</body></html>
